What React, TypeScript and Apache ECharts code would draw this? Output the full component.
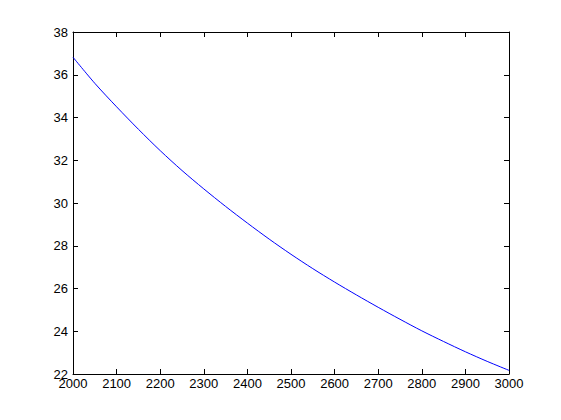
import { useEffect, useRef } from 'react';
import * as echarts from 'echarts';

// x positions, read every 50 units along the curve
const xValues = [
  2000, 2050, 2100, 2150, 2200, 2250, 2300, 2350, 2400, 2450, 2500,
  2550, 2600, 2650, 2700, 2750, 2800, 2850, 2900, 2950, 3000,
];
const yValues = [
  36.82, 35.6, 34.5, 33.45, 32.45, 31.52, 30.66, 29.84, 29.06, 28.31, 27.6,
  26.93, 26.3, 25.7, 25.12, 24.56, 24.02, 23.52, 23.04, 22.59, 22.17,
];

const X_MIN = 2000;
const X_MAX = 3000;
const X_STEP = 100;
const Y_MIN = 22;
const Y_MAX = 38;
const Y_STEP = 2;

const FONT = 'Liberation Sans, Arial, sans-serif';

export default function App() {
  const chartRef = useRef<HTMLDivElement>(null);

  useEffect(() => {
    if (!chartRef.current) return;
    const chart = echarts.init(chartRef.current, undefined, { renderer: 'svg' });

    const axisLine = { show: true, onZero: false, lineStyle: { color: '#000', width: 1 } };
    const tick = { show: true, inside: true, length: 5, lineStyle: { color: '#000' } };
    const plain = (v: number) => String(v);

    const option = {
      animation: false,
      backgroundColor: '#fff',
      grid: { left: 73, top: 32, width: 436, height: 342, containLabel: false },
      xAxis: [
        {
          type: 'value',
          min: X_MIN,
          max: X_MAX,
          interval: X_STEP,
          position: 'bottom',
          axisLine,
          axisTick: tick,
          splitLine: { show: false },
          axisLabel: { color: '#000', fontSize: 13, fontFamily: FONT, margin: 3, formatter: plain },
        },
        {
          type: 'value',
          min: X_MIN,
          max: X_MAX,
          interval: X_STEP,
          position: 'top',
          axisLine,
          axisTick: tick,
          splitLine: { show: false },
          axisLabel: { show: false },
        },
      ],
      yAxis: [
        {
          type: 'value',
          min: Y_MIN,
          max: Y_MAX,
          interval: Y_STEP,
          position: 'left',
          axisLine,
          axisTick: tick,
          splitLine: { show: false },
          axisLabel: { color: '#000', fontSize: 13, fontFamily: FONT, margin: 5, formatter: plain },
        },
        {
          type: 'value',
          min: Y_MIN,
          max: Y_MAX,
          interval: Y_STEP,
          position: 'right',
          axisLine,
          axisTick: tick,
          splitLine: { show: false },
          axisLabel: { show: false },
        },
      ],
      series: [
        {
          type: 'line',
          data: xValues.map((x, i) => [x, yValues[i]]),
          showSymbol: false,
          smooth: 0.3,
          lineStyle: { color: '#0000ff', width: 1 },
        },
      ],
    };

    chart.setOption(option);
    return () => {
      chart.dispose();
    };
  }, []);

  return (
    <div
      ref={chartRef}
      style={{ position: 'fixed', left: 0, top: 0, width: 561, height: 420 }}
    />
  );
}
